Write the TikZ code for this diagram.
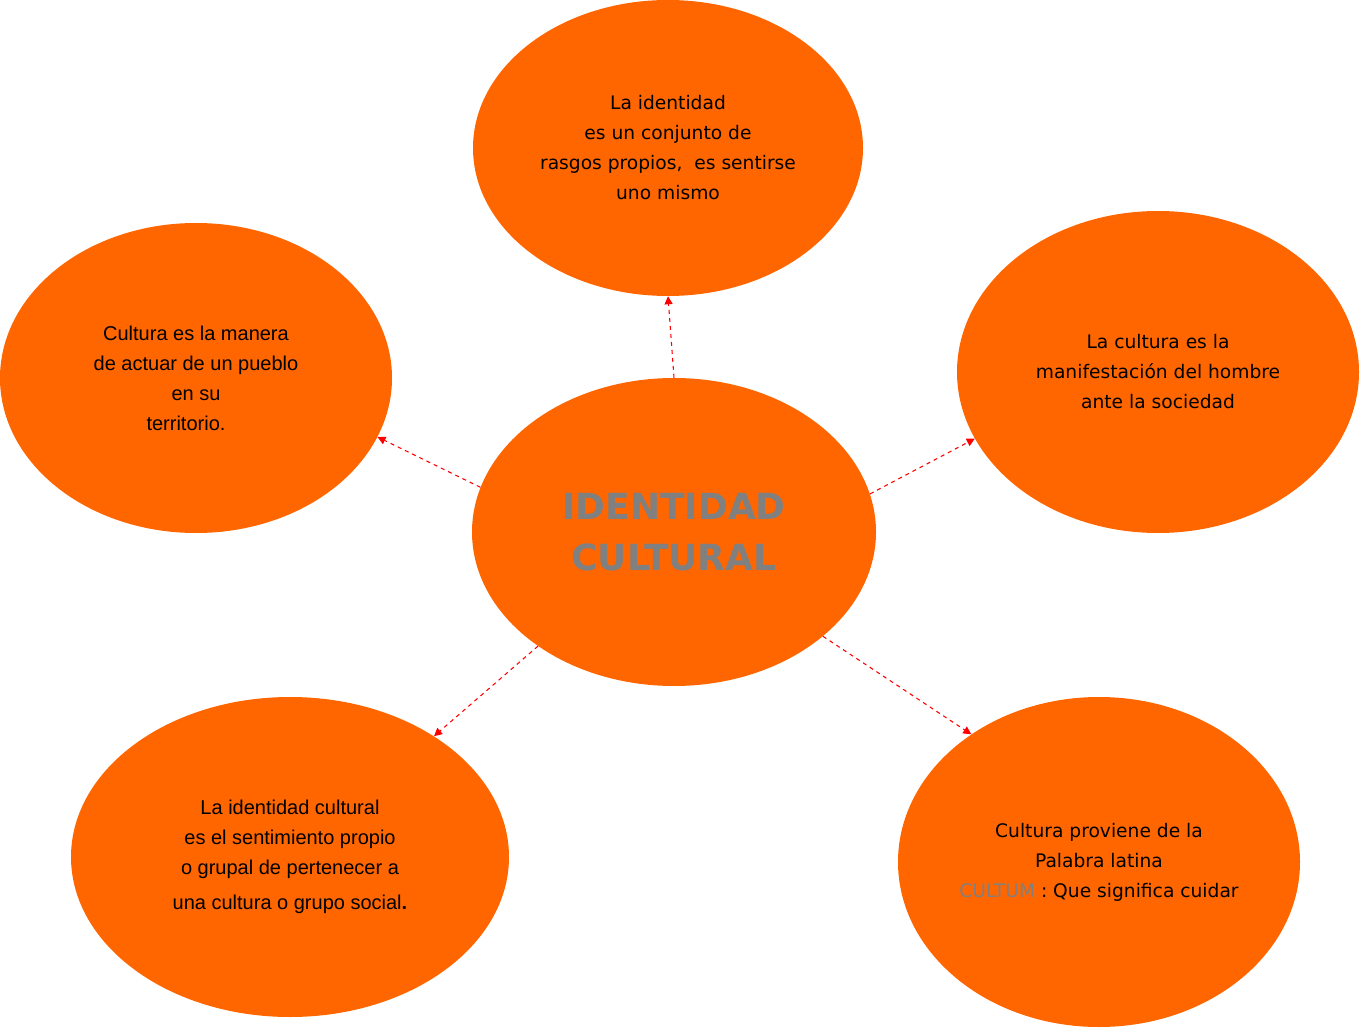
\documentclass[tikz,border=0pt]{standalone}
\usepackage{fontspec}
\setmainfont{Liberation Sans}
\newfontfamily\comic{DejaVu Sans}
\usetikzlibrary{shapes.geometric,arrows.meta}
\definecolor{orng}{HTML}{FF6600}
\definecolor{gry}{HTML}{808080}
\tikzset{
 bub/.style={ellipse,fill=orng,inner sep=0pt,align=center,font=\fontsize{15}{22.5}\selectfont},
 con/.style={draw=red,dashed,thick,-{Triangle[length=6pt,width=6pt]}}
}
\begin{document}
\begin{tikzpicture}[x=0.75pt,y=-0.75pt]
\useasboundingbox (0,0) rectangle (1360,1030);
\node[bub,minimum width=390\pgflinewidth/0.4*0.75pt/0.75pt] at (-1000,-1000) {};
\node[bub,minimum width=292.5pt,minimum height=222pt,font=\comic\fontsize{14}{22.5}\selectfont] (t) at (668,148) {La identidad\\ es un conjunto de\\ rasgos propios,\ \ es sentirse\\ uno mismo};
\node[bub,minimum width=294pt,minimum height=232.5pt] (l) at (196,378) {Cultura es la manera\\ de actuar de un pueblo\\ en su\hspace*{3em}\\ territorio.\hspace*{1em}};
\node[bub,minimum width=301.5pt,minimum height=241.5pt,font=\comic\fontsize{14}{22.5}\selectfont] (r) at (1158,372) {La cultura es la\\ manifestación del hombre\\ ante la sociedad};
\node[bub,minimum width=303pt,minimum height=231pt,font=\comic\bfseries\fontsize{27}{38}\selectfont,text=gry] (c) at (674,532) {IDENTIDAD\\ CULTURAL};
\node[bub,minimum width=328.5pt,minimum height=240pt] (bl) at (290,857) {La identidad cultural\\ es el sentimiento propio\\ o grupal de pertenecer a\\[4pt] una cultura o grupo social\textbf{.}};
\node[bub,minimum width=301.5pt,minimum height=247.5pt,font=\comic\fontsize{14}{22.5}\selectfont] (br) at (1099,862) {Cultura proviene de la\\ Palabra latina\\ {\color{gry}CULTUM} : Que significa cuidar};
\draw[con] (c.north) -- (t.south);
\draw[con] (c.167) -- (l.-18);
\draw[con] (c.11) -- (r.200);
\draw[con] (c.220) -- (bl.40);
\draw[con] (c.325) -- (br.135);
\end{tikzpicture}
\end{document}
